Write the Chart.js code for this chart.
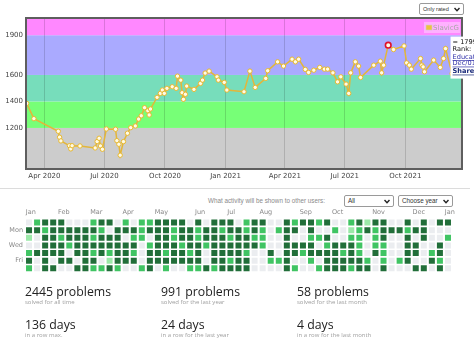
<!DOCTYPE html>
<html lang="en">
<head>
<meta charset="UTF-8">
<title>SlavicG rating and activity</title>
<script src="https://cdn.jsdelivr.net/npm/chart.js"></script>
<style>
  html, body { margin: 0; padding: 0; background: #fff; }
  body { width: 474px; height: 345px; position: relative; overflow: hidden; font-family: "Open Sans", "Noto Sans", sans-serif; }
  #ratingChart { position: absolute; left: 0; top: 0; }
  #activityChart { position: absolute; left: 0; top: 200px; }
  .sel { position: absolute; height: 10px; border: 1px solid #9a9a9a; border-radius: 2px; background: #fff;
         font-family: "Liberation Sans", Arial, sans-serif; color: #333; line-height: 10px; padding-left: 3px; box-sizing: content-box; white-space: nowrap; }
  .sel svg { position: absolute; right: 3px; top: 3px; }
  .rule { position: absolute; left: 0; top: 188px; width: 470px; height: 1px; background: #dcdcdc; }
  .note { position: absolute; left: 208px; top: 197px; font: 6.3px "Liberation Sans", Arial, sans-serif; color: #8a8a8a; white-space: nowrap; }
  .stat { position: absolute; font-size: 12.3px; line-height: 12px; color: #222; white-space: nowrap; }
  .sub { position: absolute; font-size: 6px; line-height: 6px; color: #a0a0a0; white-space: nowrap; }
</style>
</head>
<body>

<canvas id="ratingChart" width="474" height="186"></canvas>

<div class="sel" style="left:419px; top:3px; width:40px; font-size:5.6px;">Only rated
  <svg width="6" height="5" viewBox="0 0 6 5"><path d="M0.5 1 L3 3.8 L5.5 1" stroke="#222" stroke-width="1.4" fill="none"/></svg>
</div>

<div class="rule"></div>
<div class="note">What activity will be shown to other users:</div>
<div class="sel" style="left:344px; top:195px; width:45px; font-size:6.3px;">All
  <svg width="6" height="5" viewBox="0 0 6 5"><path d="M0.5 1 L3 3.8 L5.5 1" stroke="#222" stroke-width="1.4" fill="none"/></svg>
</div>
<div class="sel" style="left:398px; top:195px; width:50px; font-size:6.3px;">Choose year
  <svg width="6" height="5" viewBox="0 0 6 5"><path d="M0.5 1 L3 3.8 L5.5 1" stroke="#222" stroke-width="1.4" fill="none"/></svg>
</div>

<canvas id="activityChart" width="474" height="78"></canvas>

<div class="stat" style="left:25px; top:286px;">2445 problems</div>
<div class="sub"  style="left:25px; top:299px;">solved for all time</div>
<div class="stat" style="left:161px; top:286px;">991 problems</div>
<div class="sub"  style="left:161px; top:299px;">solved for the last year</div>
<div class="stat" style="left:297px; top:286px;">58 problems</div>
<div class="sub"  style="left:297px; top:299px;">solved for the last month</div>

<div class="stat" style="left:25px; top:319px;">136 days</div>
<div class="sub"  style="left:25px; top:332px;">in a row max.</div>
<div class="stat" style="left:161px; top:319px;">24 days</div>
<div class="sub"  style="left:161px; top:332px;">in a row for the last year</div>
<div class="stat" style="left:297px; top:319px;">4 days</div>
<div class="sub"  style="left:297px; top:332px;">in a row for the last month</div>

<script>
// ---- rating graph data (x = days since 1 Jan 2020) ----
const contestDays = [64, 75, 112, 114, 116, 129, 131, 133, 145, 168, 171, 174, 176, 179, 185, 199, 201, 204, 206, 211,
                     217, 222, 229, 234, 238, 243, 248, 250, 252, 262, 267, 270, 273, 277, 285, 291, 293, 298, 300, 302,
                     305, 307, 318, 328, 331, 335, 341, 353, 355, 364, 368, 394, 403, 411, 427, 430, 445, 454, 467, 472,
                     477, 487, 492, 500, 509, 516, 521, 529, 536, 541, 549, 553, 556, 563, 568, 571, 591, 601, 603, 606,
                     613, 621, 637, 641, 645, 648, 662, 664, 666, 668, 682, 692, 697, 700, 710];
const ratings = [1385, 1270, 1175, 1130, 1102, 1066, 1042, 1066, 1064, 1049, 1097, 1122, 1064, 1039, 1192, 1190, 1104, 1077, 994, 1097,
                 1160, 1202, 1215, 1267, 1292, 1353, 1330, 1298, 1343, 1431, 1461, 1486, 1461, 1499, 1511, 1499, 1591, 1561, 1466, 1416,
                 1454, 1516, 1491, 1536, 1561, 1614, 1629, 1586, 1561, 1544, 1486, 1473, 1629, 1506, 1574, 1632, 1699, 1667, 1719, 1699,
                 1719, 1642, 1619, 1636, 1657, 1644, 1644, 1616, 1548, 1586, 1531, 1461, 1616, 1699, 1667, 1581, 1674, 1704, 1616, 1674,
                 1825, 1792, 1819, 1691, 1674, 1644, 1724, 1674, 1661, 1624, 1712, 1657, 1724, 1799, 1610];
const tickDays = [91, 182, 274, 366, 456, 547, 639];
const tickLabels = ['Apr 2020', 'Jul 2020', 'Oct 2020', 'Jan 2021', 'Apr 2021', 'Jul 2021', 'Oct 2021'];
const ratingTicks = [1200, 1400, 1600, 1900];
const bandFrom = [0, 1200, 1400, 1600, 1900];
const bandTo = [1200, 1400, 1600, 1900, 2100];
const bandColors = ['#cccccc', '#77ff77', '#77ddbb', '#aaaaff', '#ff88ff'];
const handle = 'SlavicG';
const tipLines = ['= 1799', 'Rank:', 'Educati', 'Dec/01', 'Share'];

// ---- activity heatmap data (levels 0..4, one array per weekday, 53 weeks) ----
const actSun = [0,2,4,4,4,0,0,0,2,4,4,0,2,0,2,2,4,4, 4,4,0,4,0,4,4,4,0,2,4,4,0,0,4,2,4,4, 2,4,0,0,2,4,1,4,4,0,0,4,0,4,0,4,4];
const actMon = [4,4,2,4,4,4,4,4,4,2,0,4,4,4,2,4,4,4, 2,4,4,2,4,4,2,4,4,2,4,2,0,2,4,4,0,4, 0,0,2,0,1,2,4,2,4,4,4,2,4,4,0,0,0];
const actTue = [1,0,4,4,2,4,4,4,2,4,4,4,0,2,2,0,4,4, 2,4,4,2,4,4,4,2,4,4,2,2,0,0,4,0,0,2, 2,4,0,0,2,2,0,2,4,0,0,4,0,4,0,0,2];
const actWed = [0,0,4,4,4,2,4,4,4,4,4,4,4,4,0,2,4,4, 4,2,4,4,2,4,4,4,4,4,4,2,0,0,4,4,4,4, 0,2,4,4,4,2,0,2,2,0,0,4,4,0,0,4,0];
const actThu = [2,4,4,4,4,0,4,4,2,4,2,4,4,2,0,4,4,2, 4,4,2,4,0,4,4,4,4,2,0,0,4,0,4,4,2,4, 4,4,4,2,4,2,0,4,2,0,0,4,4,0,2,4,0];
const actFri = [4,0,4,0,4,4,0,4,4,0,1,4,4,4,0,4,4,4, 4,4,4,4,0,4,4,2,4,4,0,0,2,2,4,0,0,2, 0,4,4,4,4,4,2,0,2,0,2,4,0,0,4,2,0];
const actSat = [2,0,4,4,0,0,4,4,2,2,4,2,0,0,2,4,0,2, 0,0,2,2,4,2,4,4,4,4,0,0,0,0,4,2,0,0, 2,4,4,4,2,4,4,0,4,0,0,0,4,4,0,4,0];
const levelColors = ['#ebedf0', '#9be9a8', '#40c463', '#30a14e', '#216e39'];
const monthCols = [0, 4, 8, 12, 16, 21, 25, 29, 34, 38, 43, 48, 52];
const monthNames = ['Jan', 'Feb', 'Mar', 'Apr', 'May', 'Jun', 'Jul', 'Aug', 'Sep', 'Oct', 'Nov', 'Dec', 'Jan'];
const dayRows = [1, 3, 5];
const dayNames = ['Mon', 'Wed', 'Fri'];

const tickFont = { family: 'Verdana, "DejaVu Sans", sans-serif', size: 7 };

// colour bands behind the rating line + frame, legend and the hover box
const ratingDecor = {
    id: 'ratingDecor',
    beforeDraw(chart) {
        const { ctx, chartArea: a, scales: { y } } = chart;
        ctx.save();
        ctx.beginPath();
        ctx.rect(a.left, a.top, a.right - a.left, a.bottom - a.top);
        ctx.clip();
        bandFrom.forEach((lo, i) => {
            const top = y.getPixelForValue(bandTo[i]);
            const bot = y.getPixelForValue(lo);
            ctx.fillStyle = bandColors[i];
            ctx.fillRect(a.left, top, a.right - a.left, bot - top);
        });
        ctx.restore();
    },
    afterDraw(chart) {
        const { ctx, chartArea: a } = chart;
        ctx.save();
        ctx.strokeStyle = '#5e5e5e';
        ctx.lineWidth = 2;
        ctx.strokeRect(a.left, a.top, a.right - a.left, a.bottom - a.top);

        // legend
        const lx = a.right - 38, ly = a.top + 4;
        ctx.fillStyle = 'rgba(255,255,255,0.35)';
        ctx.fillRect(lx, ly, 36, 11);
        ctx.fillStyle = '#edc240';
        ctx.fillRect(lx + 2, ly + 3, 6, 5);
        ctx.strokeStyle = '#ccc';
        ctx.lineWidth = 0.6;
        ctx.strokeRect(lx + 2, ly + 3, 6, 5);
        ctx.fillStyle = '#a8a8a8';
        ctx.font = '7px Verdana, "DejaVu Sans", sans-serif';
        ctx.textBaseline = 'middle';
        ctx.fillText(handle, lx + 9, ly + 5.8);

        // hover box for the last rated contest
        const pt = chart.getDatasetMeta(0).data[ratings.indexOf(1799)];
        const bx = pt.x + 5, by = pt.y - 12;
        ctx.fillStyle = '#fff';
        ctx.fillRect(bx, by, 40, 42);
        const offs = [5.5, 12.5, 20.5, 27, 35];
        tipLines.forEach((t, i) => {
            ctx.fillStyle = i < 2 ? '#111' : (i < 4 ? '#3333aa' : '#1a2a7a');
            ctx.font = (i === 4 ? 'bold ' : '') + '6.6px Verdana, "DejaVu Sans", sans-serif';
            ctx.fillText(t, bx + 2, by + offs[i]);
            if (i >= 2) {
                const w = ctx.measureText(t).width;
                ctx.fillRect(bx + 2, by + offs[i] + 3, w, 0.7);
            }
        });
        ctx.restore();
    }
};

const ratingPoints = contestDays.map((d, i) => ({ x: d, y: ratings[i] }));
const maxRating = Math.max(...ratings);

new Chart(document.getElementById('ratingChart'), {
    type: 'line',
    data: {
        datasets: [{
            label: handle,
            data: ratingPoints,
            borderColor: '#e3b63a',
            borderWidth: 1.5,
            tension: 0,
            pointRadius: c => c.raw && c.raw.y === maxRating ? 2.8 : 2.2,
            pointBackgroundColor: '#fffbe6',
            pointBorderColor: c => c.raw && c.raw.y === maxRating ? '#e0102a' : '#e8b830',
            pointBorderWidth: c => c.raw && c.raw.y === maxRating ? 1.6 : 1
        }]
    },
    options: {
        responsive: false,
        animation: false,
        events: [],
        layout: { padding: { top: 18, right: 12, left: 0, bottom: 0 } },
        plugins: { legend: { display: false }, tooltip: { enabled: false } },
        scales: {
            x: {
                type: 'linear',
                min: 63,
                max: 725,
                afterBuildTicks: s => { s.ticks = tickDays.map(v => ({ value: v })); },
                afterFit: s => { s.height = 17; },
                ticks: { callback: (v, i) => tickLabels[i], font: tickFont, color: '#444', padding: 3, autoSkip: false, maxRotation: 0 },
                grid: { color: 'rgba(0,0,0,0.14)', drawTicks: false },
                border: { display: false }
            },
            y: {
                min: 890,
                max: 2030,
                afterBuildTicks: s => { s.ticks = ratingTicks.map(v => ({ value: v })); },
                afterFit: s => { s.width = 26; },
                ticks: { callback: v => String(v), font: tickFont, color: '#444', padding: 3 },
                grid: { display: false, drawTicks: false },
                border: { display: false }
            }
        }
    },
    plugins: [ratingDecor]
});

// Activity heatmap
const weekRows = [actSun, actMon, actTue, actWed, actThu, actFri, actSat];
const cells = [];
const cellColors = [];
weekRows.forEach((row, r) => {
    row.forEach((lvl, c) => {
        cells.push({ x: c, y: r });
        cellColors.push(levelColors[lvl]);
    });
});

const smallFont = { family: '"DejaVu Sans", sans-serif', size: 6.5 };

new Chart(document.getElementById('activityChart'), {
    type: 'scatter',
    data: {
        datasets: [{
            data: cells,
            pointStyle: 'rect',
            pointRadius: 4.25,
            pointBackgroundColor: cellColors,
            pointBorderWidth: 0
        }]
    },
    options: {
        responsive: false,
        animation: false,
        events: [],
        layout: { padding: { top: 0, right: 22, left: 0, bottom: 3.3 } },
        plugins: { legend: { display: false }, tooltip: { enabled: false } },
        scales: {
            x: {
                type: 'linear',
                position: 'top',
                min: -0.5,
                max: 52.5,
                afterBuildTicks: s => { s.ticks = monthCols.map(c => ({ value: c - 0.4 })); },
                afterFit: s => { s.height = 18.7; },
                ticks: { align: 'start', callback: (v, i) => monthNames[i], font: smallFont, color: '#888', padding: 2, autoSkip: false, maxRotation: 0 },
                grid: { display: false, drawTicks: false },
                border: { display: false }
            },
            y: {
                type: 'linear',
                reverse: true,
                min: -0.5,
                max: 6.5,
                afterBuildTicks: s => { s.ticks = dayRows.map(v => ({ value: v })); },
                afterFit: s => { s.width = 25; },
                ticks: { callback: (v, i) => dayNames[i], font: smallFont, color: '#888', padding: 2 },
                grid: { display: false, drawTicks: false },
                border: { display: false }
            }
        }
    }
});
</script>
</body>
</html>
